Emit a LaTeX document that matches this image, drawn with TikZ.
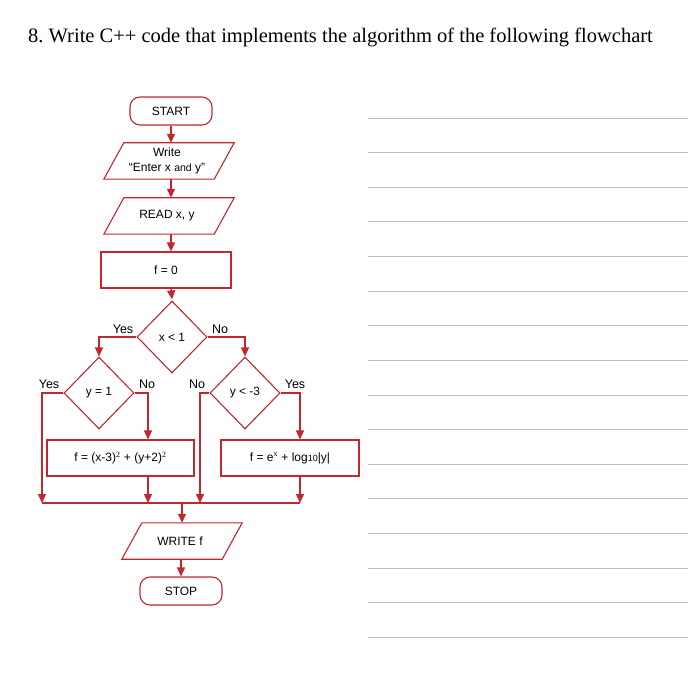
\documentclass[tikz,border=0pt]{standalone}
\usepackage{fontspec}
\setmainfont{Liberation Serif}
\newfontfamily\flow{Liberation Sans}
\usetikzlibrary{shapes.geometric,arrows.meta,calc}
\definecolor{fc}{HTML}{C4262E}
\tikzset{
 fl/.style={draw=fc,line width=1.4pt},
 ar/.style={fl,-{Triangle[length=9pt,width=8pt]}},
 box/.style={draw=fc,line width=1.1pt,font=\flow\fontsize{12}{14}\selectfont,inner sep=0pt,align=center},
 term/.style={box,rounded corners=10pt,minimum width=82pt,minimum height=28pt},
 proc/.style={box,minimum height=36pt},
 par/.style={font=\flow\fontsize{12}{14}\selectfont,inner sep=0pt,align=center,minimum height=36pt},
 dec/.style={box,diamond,minimum width=70pt,minimum height=72pt,aspect=1},
 lbl/.style={font=\flow\fontsize{12.5}{14}\selectfont,inner sep=1pt},
 rule/.style={draw=black!25,line width=0.6pt}
}
\begin{document}
\begin{tikzpicture}[x=1pt,y=-1pt]
\useasboundingbox (0,0) rectangle (688,700);
\node[anchor=west,font=\fontsize{20.5}{24}\selectfont,inner sep=0pt] (title) at (28,37) {8.~Write C++ code that implements the algorithm of the following flowchart};
\foreach \i in {0,...,15} { \draw[rule] (368,118+34.6*\i) -- (688,118+34.6*\i); }
\node[term] (start) at (171,111) {START};
\node[par,minimum width=110pt] (wr) at (167,161) {Write\\[1pt]\textquotedblleft Enter x {\fontsize{10.5}{12}\selectfont and} y\textquotedblright};
\draw[box] ($(wr.south west)+(-8,0)$) -- ($(wr.north west)+(12,0)$) -- ($(wr.north east)+(12,0)$) -- ($(wr.south east)+(-8,0)$) -- cycle;
\node[par,minimum width=110pt] (rd) at (167,216) {READ x, y};
\draw[box] ($(rd.south west)+(-8,0)$) -- ($(rd.north west)+(12,0)$) -- ($(rd.north east)+(12,0)$) -- ($(rd.south east)+(-8,0)$) -- cycle;
\node[proc,minimum width=130pt] (f0) at (166,270) {f = 0};
\node[dec] (d1) at (172,337) {x < 1};
\node[dec] (d2) at (99,393) {y = 1};
\node[dec] (d3) at (245,393) {y < -3};
\node[proc,minimum width=147pt] (b1) at (120.5,458) {f = (x-3)$^{\mathrm{2}}$ + (y+2)$^{\mathrm{2}}$};
\node[proc,minimum width=138pt] (b2) at (290,458) {f = e$^{\mathrm{x}}$ + log{\fontsize{9}{10}\selectfont 10}|y|};
\node[par,minimum width=100pt] (wf) at (180,541) {WRITE f};
\draw[box] ($(wf.south west)+(-8,0)$) -- ($(wf.north west)+(12,0)$) -- ($(wf.north east)+(12,0)$) -- ($(wf.south east)+(-8,0)$) -- cycle;
\node[term] (stop) at (181,591) {STOP};
\coordinate (m1) at (42,503);
\coordinate (m2) at (300,503);
\draw[ar] (start) -- (wr.north -| start);
\draw[ar] (wr.south -| start) -- (rd.north -| start);
\draw[ar] (rd.south -| start) -- (f0.north -| start);
\draw[ar] (f0.south -| start) -- ($(d1.north)+(0,-1)$);
\draw[ar] (d1.west) -| (d2.north);
\draw[ar] (d1.east) -| (d3.north);
\draw[ar] (d2.west) -| (m1);
\draw[ar] (d2.east) -| (b1.north -| 148,0);
\draw[ar] (d3.west) -| (200,503);
\draw[ar] (d3.east) -| (b2.north -| m2);
\draw[ar] (b1.south -| 148,0) -- (148,503);
\draw[ar] (b2.south -| m2) -- (m2);
\draw[fl] (m1) -- (m2);
\draw[ar] (182,503) -- ($(wf.north)+(2,0)$);
\draw[ar] ($(wf.south)+(1,0)$) -- (stop.north);
\node[lbl] (yes1) at (123,329) {Yes};
\node[lbl] (no1) at (220,329) {No};
\node[lbl] (yes2) at (49,384) {Yes};
\node[lbl] (no2) at (147,384) {No};
\node[lbl] (no3) at (197,384) {No};
\node[lbl] (yes3) at (295,384) {Yes};
\end{tikzpicture}
\end{document}
